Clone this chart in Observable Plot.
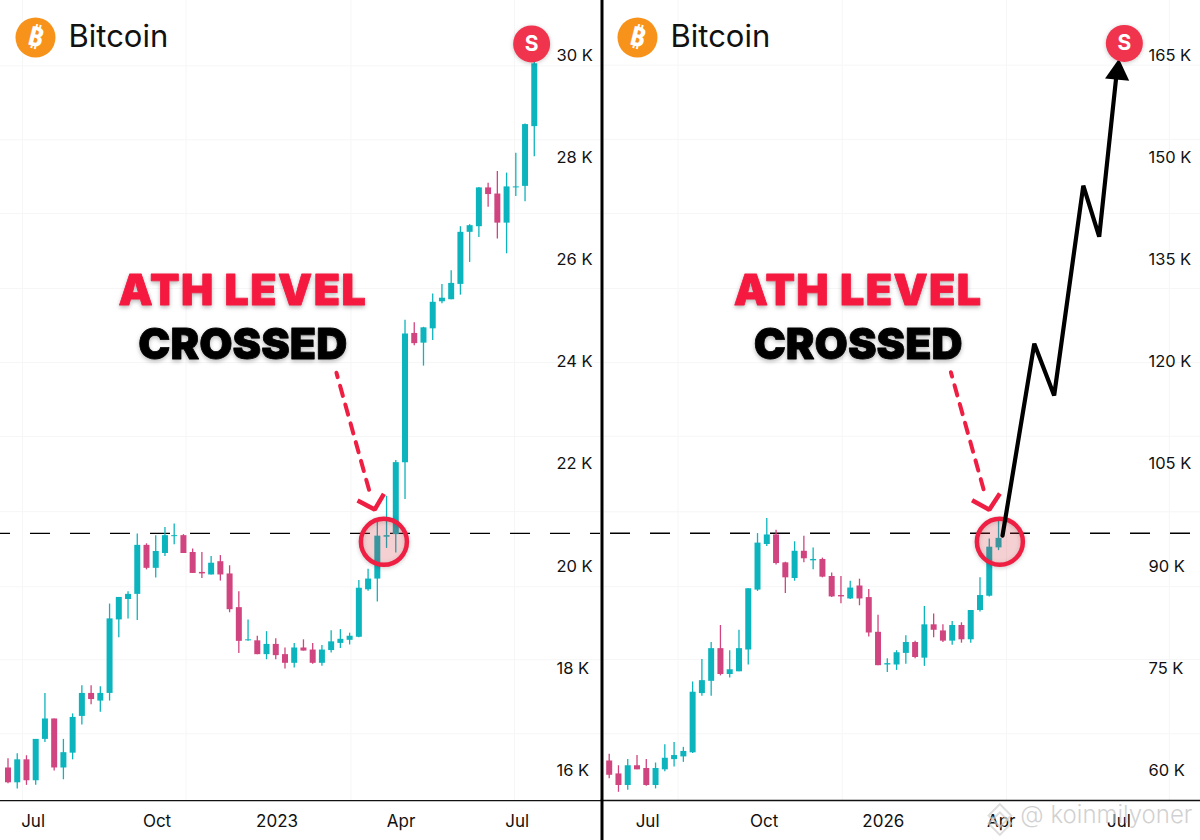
<!DOCTYPE html>
<html>
<head>
<meta charset="utf-8">
<script src="https://cdn.jsdelivr.net/npm/d3@7"></script>
<script src="https://cdn.jsdelivr.net/npm/@observablehq/plot@0.6"></script>
<style>
html,body{margin:0;padding:0;background:#fff}
#chart{display:flex;width:1200px;height:840px;overflow:hidden}
#chart svg{display:block;flex:none}
.ath text{filter:drop-shadow(0 2px 2px rgba(0,0,0,.28))}
.wide text{letter-spacing:1.4px}
.soft circle,.soft path{filter:drop-shadow(0 1px 2px rgba(0,0,0,.22))}
</style>
</head>
<body>
<div id="chart"></div>
<script>
// ---------- 2022-23 weekly candles (price in thousands of USD) ----------
const start2023 = "2022-06-12";
const open2023 = [16.05,15.76,16.21,15.80,16.61,17.01,16.05,16.34,17.06,17.51,
  17.36,17.51,18.95,19.35,19.45,20.41,19.96,20.25,20.58,20.60,
  20.27,19.88,19.83,20.09,19.85,19.19,18.54,18.54,18.27,18.47,
  18.27,18.10,18.40,18.36,18.10,18.35,18.49,18.55,18.61,19.54,
  19.75,20.57,20.62,22.03,24.56,24.37,24.65,25.18,25.22,25.52,
  26.54,26.65,27.41,27.29,26.72,27.41,27.44,28.61];
const close2023 = [15.76,16.21,15.80,16.61,17.01,16.05,16.35,17.04,17.51,17.39,
  17.51,18.97,19.39,19.45,20.41,19.96,20.29,20.60,20.60,20.25,
  19.86,19.85,20.06,19.83,19.15,18.53,18.56,18.27,18.47,18.25,
  18.10,18.40,18.34,18.10,18.36,18.52,18.57,18.63,19.57,19.75,
  20.59,20.60,22.03,24.55,24.36,24.67,25.17,25.25,25.54,26.54,
  26.67,27.41,27.28,26.72,27.43,27.43,28.65,29.84];
const high2023 = [16.23,16.33,16.29,16.61,17.51,17.01,16.61,17.11,17.66,17.66,
  17.64,19.26,19.39,19.50,20.63,20.44,20.60,20.76,20.83,20.62,
  20.34,20.27,20.19,20.21,20.01,19.50,18.95,18.63,18.72,18.58,
  18.40,18.49,18.56,18.49,18.45,18.74,18.76,18.69,19.72,19.94,
  20.90,21.37,22.07,24.82,24.77,24.68,25.33,25.52,25.79,26.65,
  26.69,27.42,27.50,27.73,27.70,28.09,28.66,30.10];
const low2023 = [15.74,15.64,15.71,15.71,16.55,15.99,15.82,16.21,16.89,17.29,
  17.14,17.36,18.60,18.97,18.94,19.93,19.77,20.19,20.42,20.25,
  19.86,19.76,19.83,19.71,19.09,18.29,18.53,18.27,18.17,18.17,
  17.99,18.01,18.34,18.08,18.04,18.30,18.39,18.46,18.60,19.51,
  19.30,20.35,20.26,21.31,24.32,23.92,24.42,25.14,25.22,25.31,
  25.95,26.44,27.03,26.41,26.12,27.24,27.14,28.02];

// ---------- 2025-26 weekly candles (price in thousands of USD) ----------
const start2026 = "2025-06-07";
const open2026 = [61.4,59.5,57.8,60.7,60.3,57.8,60.1,61.6,62.0,62.6,
  71.3,73.1,77.9,74.1,74.5,77.7,86.5,93.2,94.6,90.5,
  88.2,92.2,90.8,91.0,88.5,85.7,85.2,87.1,85.4,80.3,
  75.5,75.5,77.2,78.8,76.5,81.4,80.5,79.0,81.3,79.2,
  83.5,85.6,92.7];
const close2026 = [59.3,57.8,60.7,60.1,57.8,60.3,61.8,62.2,62.8,71.5,
  73.2,77.9,74.1,74.8,77.9,86.7,93.4,94.6,90.4,88.3,
  92.2,91.1,91.0,88.4,85.5,85.5,86.8,85.2,80.2,75.4,
  75.7,77.3,78.8,76.6,81.4,80.6,79.0,81.3,79.2,83.5,
  85.7,92.8,94.1];
const high2026 = [62.4,60.7,61.6,62.2,61.6,61.1,63.8,64.1,63.4,73.0,
  76.3,78.8,81.3,77.6,80.6,86.7,94.8,97.0,95.3,90.6,
  93.6,94.4,92.7,91.2,89.0,88.5,87.8,88.1,86.6,82.8,
  76.4,77.6,79.8,79.0,84.1,83.0,81.4,81.9,81.7,83.5,
  88.3,94.0,96.6];
const low2026 = [58.8,56.8,57.1,60.1,57.7,57.3,59.8,60.5,61.2,62.5,
  70.9,70.9,73.9,73.6,74.5,75.5,86.3,92.9,90.2,86.0,
  87.8,90.5,89.5,88.3,85.4,84.5,85.1,84.2,79.6,75.4,
  74.4,74.7,75.6,76.4,75.3,79.5,78.8,78.4,78.7,78.7,
  83.3,85.5,92.3];

// ---------- axes ----------
const priceTicks2023 = [16,18,20,22,24,26,28,30];
const priceTicks2026 = [60,75,90,105,120,135,150,165];
const timeTicks2023 = ["2022-07-01","2022-10-03","2023-01-02","2023-04-06","2023-07-03"];
const timeTicks2026 = ["2025-07-06","2025-10-02","2025-12-31","2026-03-30","2026-06-27"];
const timeLabels2023 = ["Jul","Oct","2023","Apr","Jul"];
const timeLabels2026 = ["Jul","Oct","2026","Apr","Jul"];
const gridPrices2023 = [29.80,28.35,26.91,25.44,23.99,22.54,21.07,19.60,18.17,16.72];
const gridPrices2026 = [163.6,152.7,141.8,130.8,119.9,109.1,98.0,87.0,76.3,65.4];
const gridDates2023 = ["2022-06-23","2022-10-25","2023-02-27","2023-07-01"];
const gridDates2026 = ["2025-07-29","2025-11-30","2026-04-03","2026-08-04"];

// ---------- annotated levels ----------
const athLevel2023 = 20.645, athLevel2026 = 94.85;
const callout2023 = {date:"2023-03-24", price:20.48};
const callout2026 = {date:"2026-03-29", price:93.6};
const sell2023 = {date:"2023-07-14", price:30.23};
const sell2026 = {date:"2026-07-01", price:166.8};
const headline2023 = {date:"2022-12-07", top:25.38, bottom:24.32};
const headline2026 = {date:"2025-12-12", top:130.35, bottom:122.45};
const pointerDates2023 = ["2023-02-16","2023-03-14"], pointerPrices2023 = [23.79,21.38];
const pointerDates2026 = ["2026-02-20","2026-03-18"], pointerPrices2026 = [118.5,100.4];
const chevronDates2023 = ["2023-03-04","2023-03-17","2023-03-24"], chevronPrices2023 = [21.29,21.11,21.42];
const chevronDates2026 = ["2026-03-08","2026-03-21","2026-03-29"], chevronPrices2026 = [99.7,98.3,100.7];
// projected path in the 2026 panel
const pathDates = ["2026-03-31","2026-04-24","2026-05-09","2026-05-31","2026-06-12","2026-06-25"];
const pathPrices = [94.5,122.7,115.1,145.9,138.4,162.1];
const pathHead = {date:"2026-06-26", price:162.5};

// ---------- styling ----------
const UP = "#0cb4bd", DOWN = "#d0447f", RED = "#ee1f42", HEAD = "#f5183f", GRID = "#f6f6f6";
const FONT = "Inter, 'Noto Sans', sans-serif";
const d = s => new Date(s + "T00:00:00Z");

function panel(c) {
  const rows = c.open.map((o, i) => ({
    date: d3.utcDay.offset(d(c.start), 7 * i),
    open: o, close: c.close[i], high: c.high[i], low: c.low[i]
  }));
  const colour = r => (r.close >= r.open ? UP : DOWN);
  const dated = (dates, values) => dates.map((s, i) => ({date: d(s), value: values[i]}));
  return Plot.plot({
    width: 600, height: 840, margin: 0,
    style: {background: "transparent", overflow: "hidden"},
    x: {type: "utc", domain: c.xDomain.map(s => new Date(s)), axis: null},
    y: {domain: c.yDomain, axis: null},
    marks: [
      Plot.ruleY(c.gridPrices, {stroke: GRID, strokeWidth: 1}),
      Plot.ruleX(c.gridDates.map(d), {y1: c.axisPrice, y2: c.yDomain[1], stroke: GRID, strokeWidth: 1}),
      Plot.ruleY([c.axisPrice], {stroke: "#111", strokeWidth: 1.4}),
      Plot.ruleY([c.ath], {stroke: "#000", strokeWidth: 1.4, strokeDasharray: "20,20", strokeDashoffset: c.dashOffset}),
      // candles
      Plot.ruleX(rows, {x: "date", y1: "low", y2: "high", stroke: colour, strokeWidth: 1.3}),
      Plot.ruleX(rows, {x: "date", y1: r => Math.min(r.open, r.close), y2: r => Math.max(r.open, r.close), stroke: colour, strokeWidth: 6}),
      // y labels and x labels
      Plot.text(c.priceTicks, {y: v => v, text: v => v + " K", frameAnchor: "left", dx: c.labelX, textAnchor: "start",
        fontSize: 16.5, fontFamily: FONT, fill: "#111"}),
      Plot.text(c.timeTicks, {x: s => d(s), text: (s, i) => c.timeLabels[i], frameAnchor: "bottom", dy: -14,
        fontSize: 17, fontFamily: FONT, fill: "#111"}),
      // header
      Plot.dot([0], {frameAnchor: "top-left", dx: c.iconX, dy: 37, r: 20, fill: "#f7931a"}),
      Plot.text(["₿"], {frameAnchor: "top-left", dx: c.iconX, dy: 37, lineAnchor: "middle", textAnchor: "middle",
        rotate: 14, fontSize: 27, fontWeight: 700, fontFamily: "'Noto Sans','DejaVu Sans',sans-serif", fill: "#fff"}),
      Plot.text(["Bitcoin"], {frameAnchor: "top-left", dx: c.iconX + 33, dy: 37, lineAnchor: "middle", textAnchor: "start",
        fontSize: 31, fontFamily: FONT, fill: "#111"}),
      // annotation
      Plot.line(dated(c.pointerDates, c.pointerPrices), {x: "date", y: "value", stroke: RED, strokeWidth: 4, strokeDasharray: "10.5,9", strokeDashoffset: 6}),
      Plot.line(dated(c.chevronDates, c.chevronPrices), {x: "date", y: "value", stroke: RED, strokeWidth: 4.5, strokeLinejoin: "miter", strokeLinecap: "butt"}),
      Plot.dot([c.callout], {x: r => d(r.date), y: "price", r: 23, stroke: RED, strokeWidth: 4.5, fill: "#ef3a46", fillOpacity: 0.2, className: "soft"}),
      ...(c.extra || []),
      Plot.dot([c.sell], {x: r => d(r.date), y: "price", r: 18.5, fill: "#f0344e", className: "soft"}),
      Plot.text([c.sell], {x: r => d(r.date), y: "price", text: () => "S", fontSize: 21, fontWeight: 700, fontFamily: FONT, fill: "#fff"}),
      Plot.text(["ATH LEVEL"], {x: () => d(c.headline.date), y: () => c.headline.top, fontSize: 43, fontWeight: 900, fontFamily: FONT,
        fill: HEAD, stroke: HEAD, strokeWidth: 0.8, className: "ath wide"}),
      Plot.text(["CROSSED"], {x: () => d(c.headline.date), y: () => c.headline.bottom, fontSize: 43, fontWeight: 900, fontFamily: FONT,
        fill: "#000", stroke: "#000", strokeWidth: 0.8, className: "ath"}),
      ...(c.overlay || [])
    ]
  });
}

const left = panel({
  start: start2023, open: open2023, close: close2023, high: high2023, low: low2023,
  xDomain: ["2022-06-06T07:26Z", "2023-09-04T05:00Z"], yDomain: [14.63, 31.08], axisPrice: 15.41,
  ath: athLevel2023, dashOffset: 10, labelX: 556, iconX: 35,
  priceTicks: priceTicks2023, timeTicks: timeTicks2023, timeLabels: timeLabels2023,
  gridPrices: gridPrices2023, gridDates: gridDates2023,
  callout: callout2023, sell: sell2023, headline: headline2023,
  pointerDates: pointerDates2023, pointerPrices: pointerPrices2023,
  chevronDates: chevronDates2023, chevronPrices: chevronPrices2023
});

const rightDomain = ["2025-05-31T10:20Z", "2026-08-27T12:00Z"];
const right = panel({
  start: start2026, open: open2026, close: close2026, high: high2026, low: low2026,
  xDomain: rightDomain, yDomain: [49.72, 173.1], axisPrice: 55.6,
  ath: athLevel2026, dashOffset: 30, labelX: 548, iconX: 37,
  priceTicks: priceTicks2026, timeTicks: timeTicks2026, timeLabels: timeLabels2026,
  gridPrices: gridPrices2026, gridDates: gridDates2026,
  callout: callout2026, sell: sell2026, headline: headline2026,
  pointerDates: pointerDates2026, pointerPrices: pointerPrices2026,
  chevronDates: chevronDates2026, chevronPrices: chevronPrices2026,
  extra: [
    Plot.line(pathDates.map((s, i) => ({date: d(s), value: pathPrices[i]})), {x: "date", y: "value", stroke: "#000", strokeWidth: 4.2, strokeLinejoin: "miter"}),
    Plot.dot([pathHead], {x: r => d(r.date), y: "price", symbol: "triangle", r: 9, fill: "#000", rotate: 5})
  ],
  overlay: [
    Plot.ruleX([new Date(rightDomain[0])], {stroke: "#000", strokeWidth: 3, dx: 1.5}),
    Plot.dot([53.4, 52.2], {x: () => d("2026-03-29"), y: v => v, symbol: "square", rotate: 45, r: 9, stroke: "#cfcfcf", strokeWidth: 2, fill: "none", strokeOpacity: 0.7}),
    Plot.text(["@ koinmilyoner"], {frameAnchor: "bottom-right", dx: -8, dy: -25, textAnchor: "end", lineAnchor: "middle",
      fontSize: 24, fontWeight: 300, fontFamily: FONT, fill: "#bdbdbd", fillOpacity: 0.7})
  ]
});

document.getElementById("chart").append(left, right);
</script>
</body>
</html>
